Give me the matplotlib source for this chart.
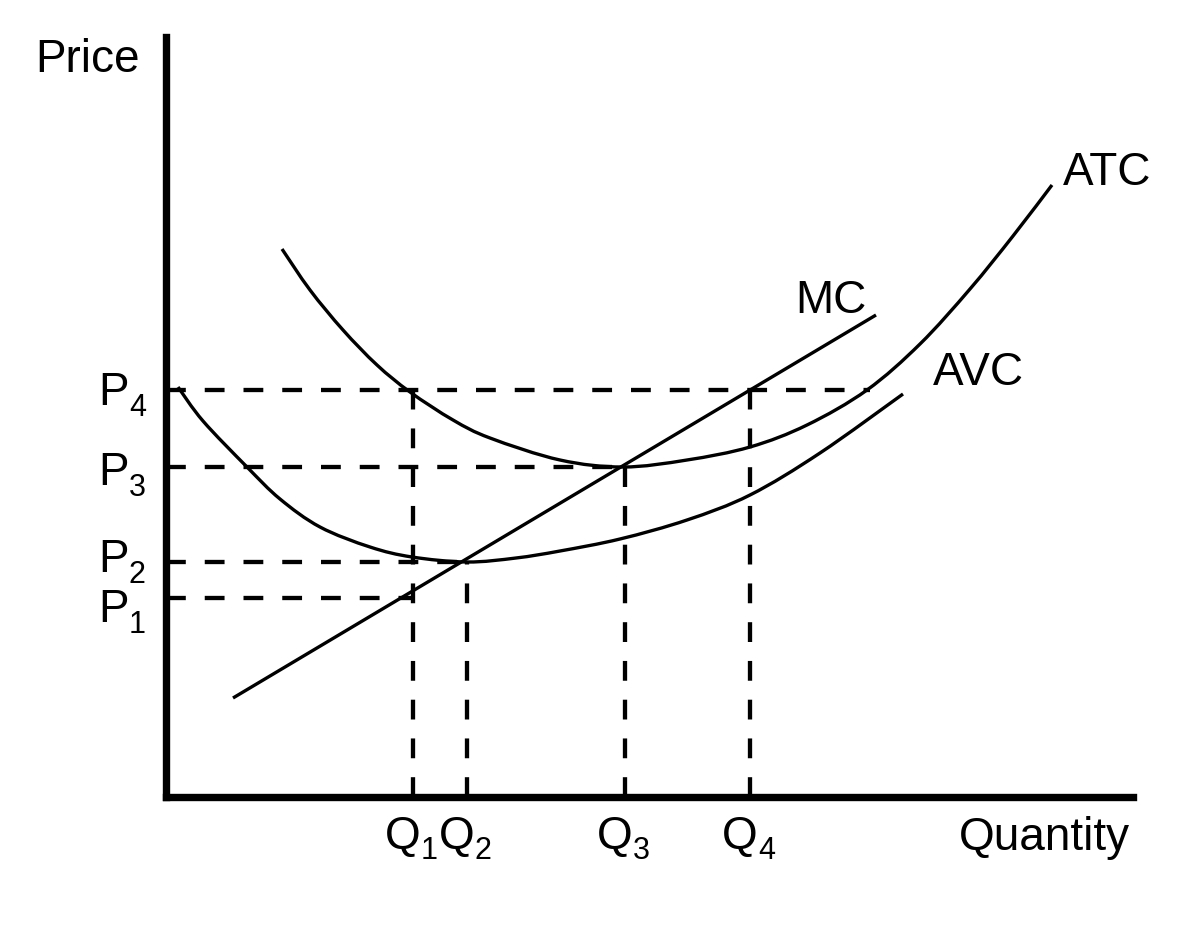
import matplotlib
matplotlib.use("Agg")
import matplotlib.pyplot as plt
import numpy as np
from matplotlib.patches import PathPatch
from matplotlib.path import Path

plt.rcParams["font.family"] = ["Liberation Sans", "DejaVu Sans"]

# quantity / price (1 unit = 100 px, origin at the axes corner)
atc_q = [1.16, 1.44, 1.77, 2.11, 2.44, 2.87, 3.24, 3.94, 4.57, 5.21, 5.84, 6.41, 7.01, 7.54, 8.04, 8.47, 8.86]
atc_p = [5.48, 5.07, 4.67, 4.32, 4.05, 3.77, 3.59, 3.37, 3.30, 3.37, 3.50, 3.72, 4.07, 4.53, 5.08, 5.61, 6.12]

avc_q = [0.12, 0.37, 0.81, 1.14, 1.54, 2.04, 2.46, 3.01, 3.50, 3.94, 4.54, 5.21, 5.84, 6.54, 7.37]
avc_p = [4.10, 3.76, 3.30, 2.98, 2.70, 2.50, 2.40, 2.35, 2.39, 2.46, 2.58, 2.77, 3.02, 3.44, 4.03]

mc_q = [0.67, 7.10]
mc_p = [0.99, 4.82]

price_levels = [1.99, 2.35, 3.30, 4.07]
price_names = ["1", "2", "3", "4"]
price_line_end = [2.47, 3.01, 4.59, 7.04]

qty_levels = [2.47, 3.01, 4.59, 5.84]
qty_names = ["1", "2", "3", "4"]
qty_line_top = [4.07, 2.35, 3.30, 4.07]

# label baseline nudges in px (P1 / P2 are pushed apart in the original)
price_label_drop = [24, 10, 18, 15]

PX = 0.72  # points per pixel at dpi 100
BIG = 33
SMALL = 22


def smooth_path(xs, ys):
    # Catmull-Rom through the read points, handed to matplotlib as cubic Beziers
    pts = np.column_stack([xs, ys])
    verts = [pts[0]]
    codes = [Path.MOVETO]
    for i in range(len(pts) - 1):
        p0 = pts[max(i - 1, 0)]
        p1 = pts[i]
        p2 = pts[i + 1]
        p3 = pts[min(i + 2, len(pts) - 1)]
        verts += [p1 + (p2 - p0) / 6, p2 - (p3 - p1) / 6, p2]
        codes += [Path.CURVE4] * 3
    return Path(verts, codes)


fig = plt.figure(figsize=(11.94, 9.26), dpi=100)
ax = fig.add_axes([166 / 1194, 129 / 926, 967 / 1194, 760 / 926])
ax.set_xlim(0, 9.67)
ax.set_ylim(0, 7.60)

for side in ["top", "right"]:
    ax.spines[side].set_visible(False)
for side in ["left", "bottom"]:
    ax.spines[side].set_linewidth(5.3)
    ax.spines[side].set_capstyle("projecting")
ax.set_xticks([])
ax.set_yticks([])

dash = dict(color="black", lw=3.1, dashes=(4.6, 4.4), clip_on=False)
for p, end in zip(price_levels, price_line_end):
    ax.plot([0, end], [p, p], **dash)
for q, top in zip(qty_levels, qty_line_top):
    ax.plot([q, q], [0, top], **dash)

for xs, ys in [(atc_q, atc_p), (avc_q, avc_p)]:
    ax.add_patch(PathPatch(smooth_path(xs, ys), facecolor="none", edgecolor="black",
                           lw=2.4, capstyle="butt", clip_on=False))
ax.plot(mc_q, mc_p, color="black", lw=2.4, solid_capstyle="butt", clip_on=False)

# price labels on the vertical axis
for p, name, drop in zip(price_levels, price_names, price_label_drop):
    ax.annotate("P", (0, p), xytext=(-37 * PX, -drop * PX), textcoords="offset points",
                ha="right", va="baseline", fontsize=BIG)
    ax.annotate(name, (0, p), xytext=(-37 * PX, -(drop + 11) * PX), textcoords="offset points",
                ha="left", va="baseline", fontsize=SMALL)

# quantity labels under the horizontal axis
for q, name in zip(qty_levels, qty_names):
    ax.annotate("Q", (q, 0), xytext=(8 * PX, -52 * PX), textcoords="offset points",
                ha="right", va="baseline", fontsize=BIG)
    ax.annotate(name, (q, 0), xytext=(8 * PX, -62 * PX), textcoords="offset points",
                ha="left", va="baseline", fontsize=SMALL)

ax.text(8.97, 6.12, "ATC", fontsize=BIG, ha="left", va="baseline")
ax.text(6.29, 4.84, "MC", fontsize=BIG, ha="left", va="baseline")
ax.text(7.67, 4.12, "AVC", fontsize=BIG, ha="left", va="baseline")

ax.text(9.64, -0.53, "Quantity", fontsize=BIG, ha="right", va="baseline", clip_on=False)
fig.text(35 / 1194, 1 - 72 / 926, "Price", fontsize=BIG, ha="left", va="baseline")

fig.savefig("out.png", dpi=100)
